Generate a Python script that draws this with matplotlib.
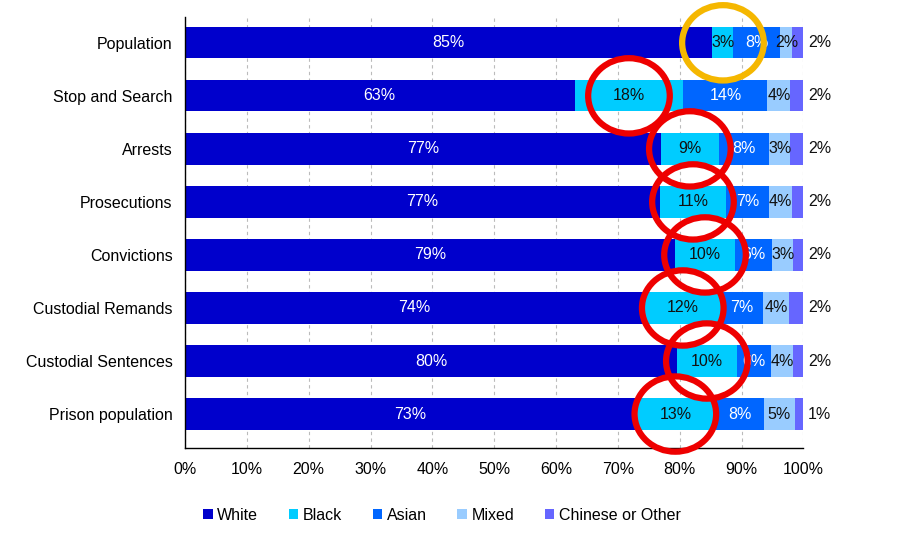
"""
Ethnicity breakdown through the criminal justice system
Stacked horizontal bars, shares of each stage
"""

import numpy as np
import matplotlib.pyplot as plt
from matplotlib.patches import Ellipse

plt.rcParams['font.family'] = ['Liberation Sans', 'DejaVu Sans']

# Data (percent of each stage)
stages = ['Population', 'Stop and Search', 'Arrests', 'Prosecutions',
          'Convictions', 'Custodial Remands', 'Custodial Sentences',
          'Prison population']
white = [85.3, 63.0, 77.0, 76.8, 79.2, 74.3, 79.6, 72.8]
black = [3.4, 17.6, 9.3, 10.7, 9.8, 12.4, 9.6, 13.0]
asian = [7.6, 13.6, 8.2, 7.0, 6.0, 6.7, 5.6, 7.8]
mixed = [1.9, 3.7, 3.4, 3.6, 3.3, 4.3, 3.6, 5.0]
other = [1.8, 2.2, 2.1, 1.9, 1.7, 2.3, 1.6, 1.4]

series_names = ['White', 'Black', 'Asian', 'Mixed', 'Chinese or Other']
colors = ['#0000CC', '#00CCFF', '#0066FF', '#99CCFF', '#6666FF']
text_colors = ['white', '#111111', 'white', '#111111', '#111111']

fig = plt.figure(figsize=(9.16, 5.43), dpi=100)
ax = fig.add_axes([0.202, 0.175, 0.675, 0.794])

y = np.arange(len(stages))
series = [white, black, asian, mixed, other]
left = np.zeros(len(stages))
for vals, name, col, tcol in zip(series, series_names, colors, text_colors):
    vals = np.array(vals)
    ax.barh(y, vals, left=left, height=0.59, color=col, label=name, zorder=2)
    for yi, (l, v) in enumerate(zip(left, vals)):
        label = f"{v:.0f}%"
        if name == 'Chinese or Other':
            ax.text(102.6, yi, label, ha='center', va='center',
                    fontsize=11.5, color=tcol, clip_on=False)
        else:
            ax.text(l + v / 2, yi, label, ha='center', va='center',
                    fontsize=11.5, color=tcol, zorder=3)
    left = left + vals

# Highlight circles on the Black share
black_mid = np.array(white) + np.array(black) / 2
for yi, xm in enumerate(black_mid):
    ring = '#F5B700' if yi == 0 else '#EE0000'
    ax.add_patch(Ellipse((xm, yi), width=13.2, height=1.42, fill=False,
                         edgecolor=ring, linewidth=4.5, zorder=4,
                         clip_on=False))

ax.set_xlim(0, 100)
ax.set_ylim(7.64, -0.49)
ax.set_yticks(y)
ax.set_yticklabels(stages, fontsize=11.5)
ax.set_xticks(np.arange(0, 101, 10))
ax.set_xticklabels([f"{t}%" for t in range(0, 101, 10)], fontsize=11.5)
ax.tick_params(axis='y', length=0, pad=9)
ax.tick_params(axis='x', length=0, pad=10)
ax.xaxis.grid(True, linestyle=(0, (3, 3)), color='#BBBBBB', linewidth=0.8,
              zorder=0)
ax.set_axisbelow(True)
for side in ['top', 'right']:
    ax.spines[side].set_visible(False)
ax.spines['left'].set_linewidth(1.0)
ax.spines['bottom'].set_linewidth(1.0)

fig.legend(loc='center', bbox_to_anchor=(442 / 916, 1 - 515 / 543), ncol=5,
           frameon=False, fontsize=11.5, handlelength=0.6, handleheight=0.6,
           handletextpad=0.3, columnspacing=1.9)

plt.savefig('out.png', dpi=100)
